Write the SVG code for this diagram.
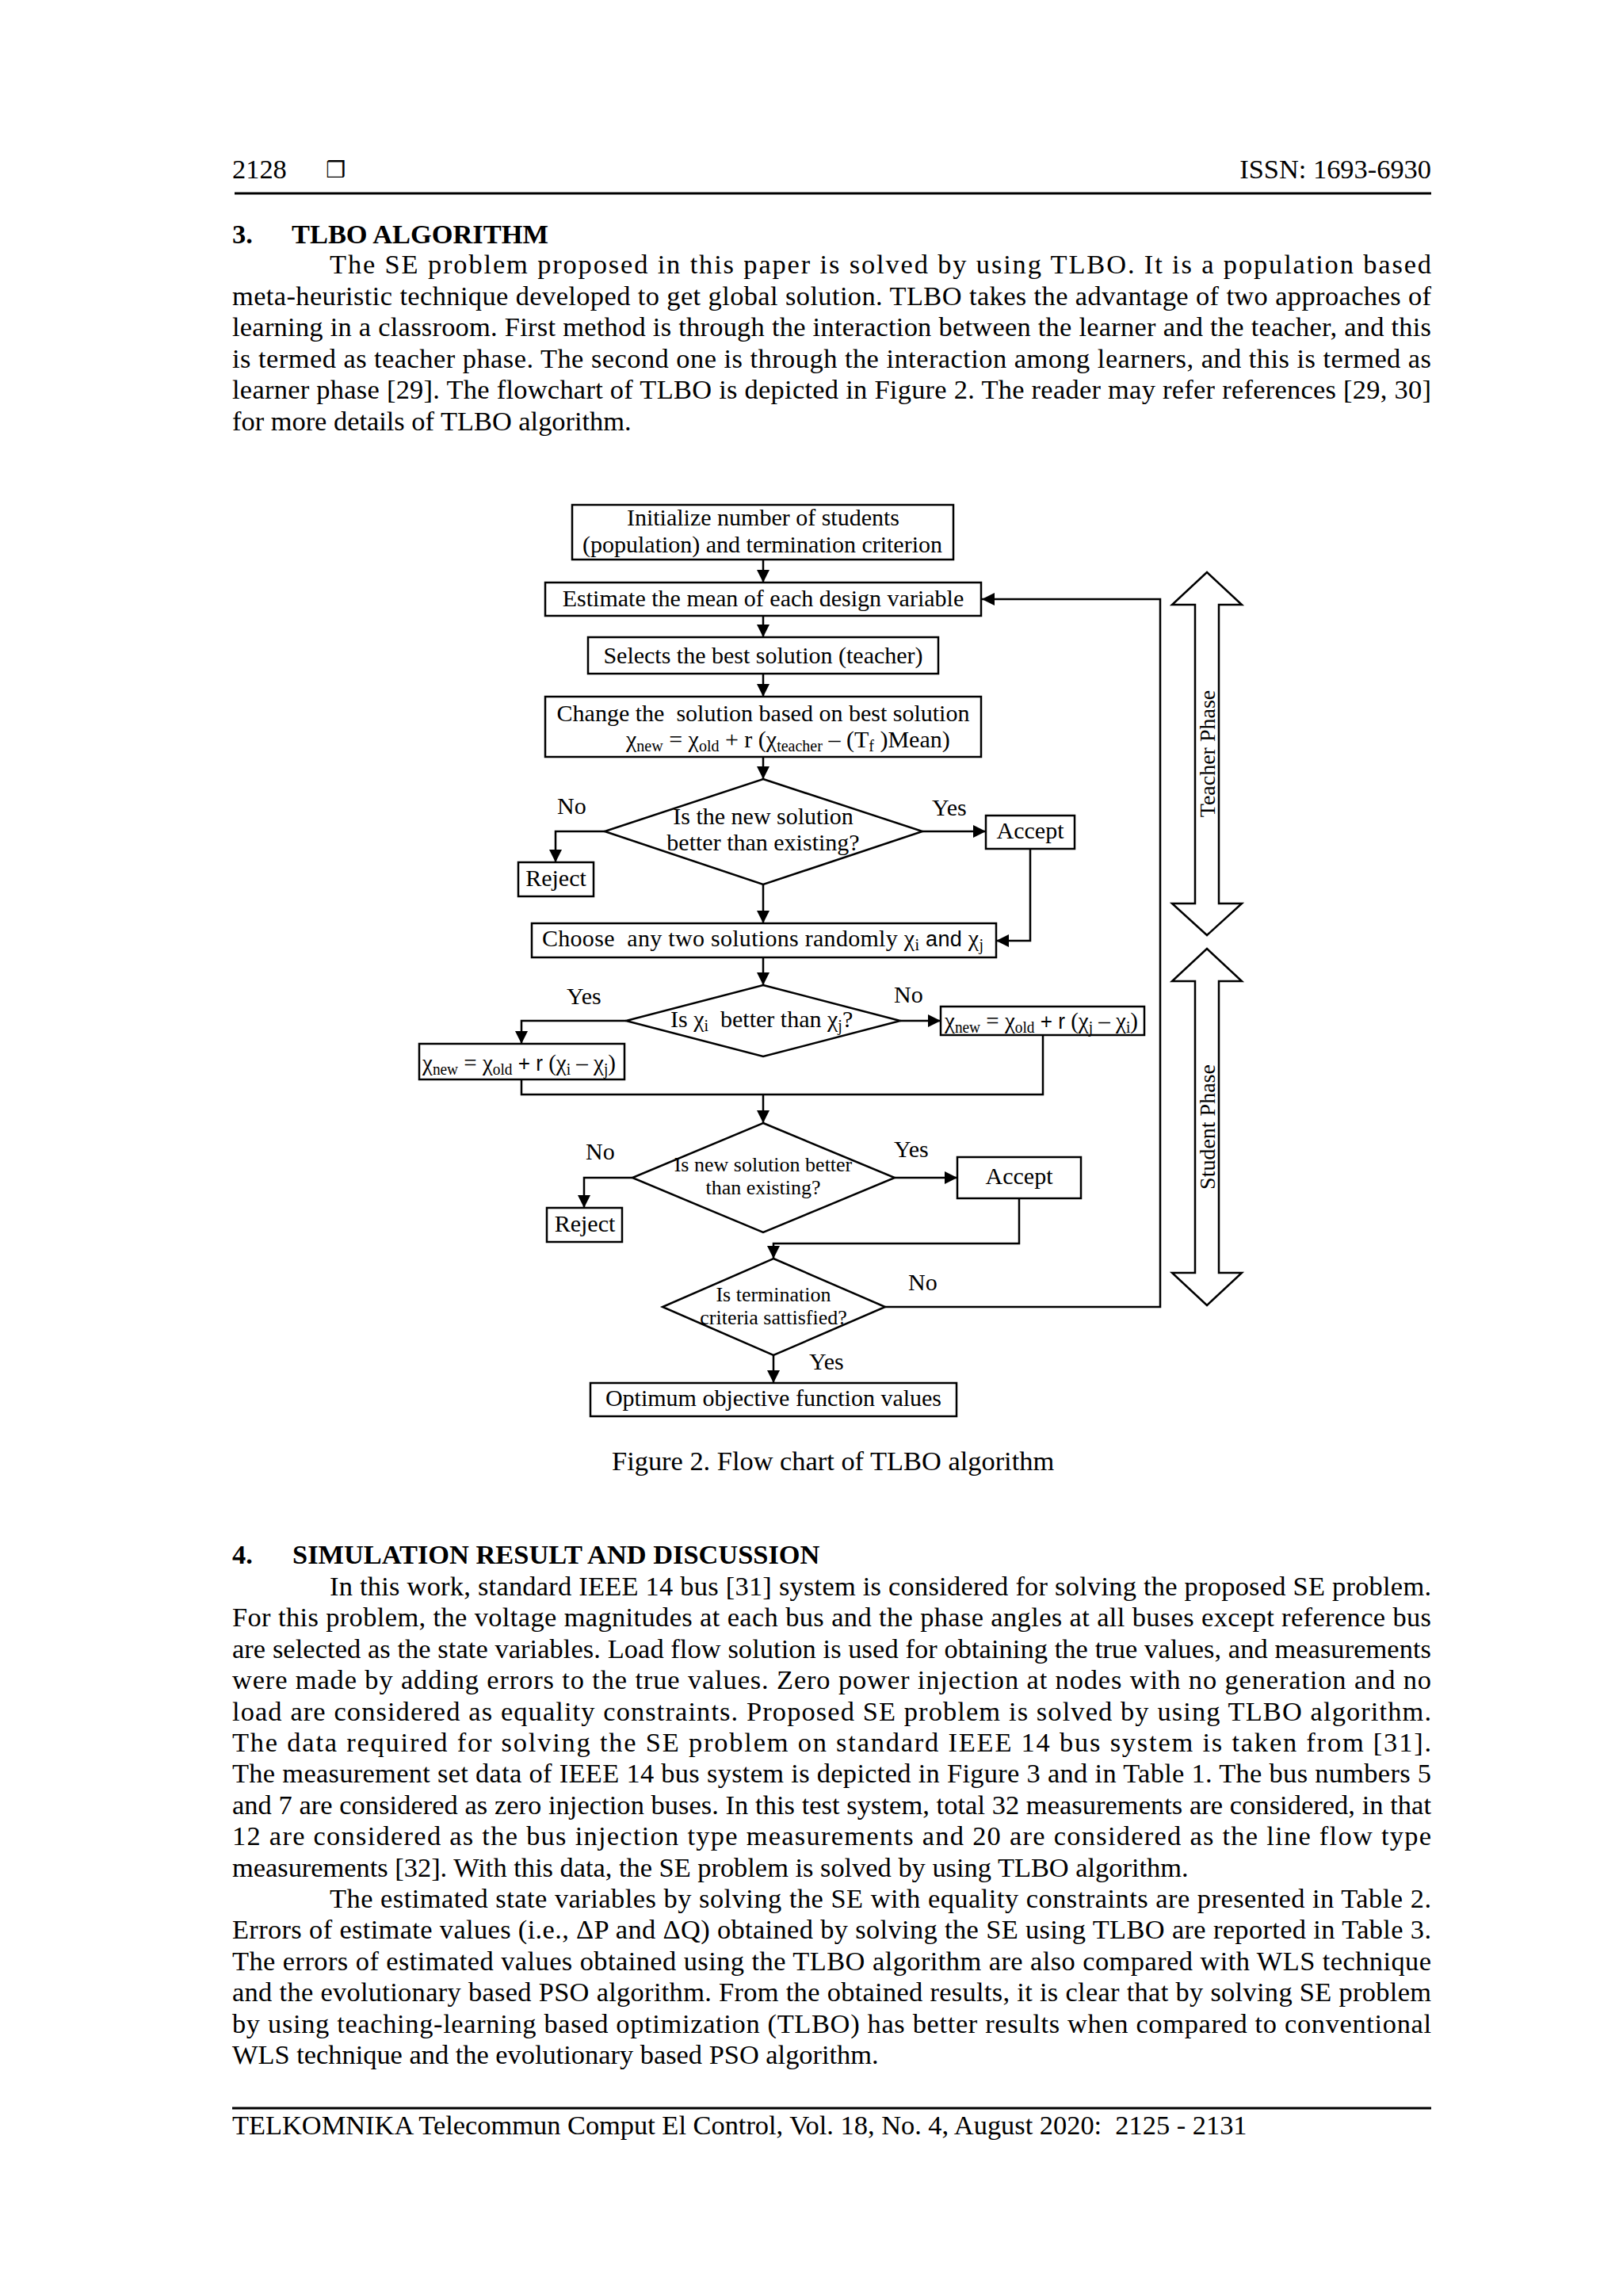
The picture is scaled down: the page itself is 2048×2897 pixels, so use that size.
<svg xmlns="http://www.w3.org/2000/svg" width="2048" height="2897" viewBox="0 0 2048 2897">
<style>
.t{font-family:"Liberation Serif","Times New Roman",serif;fill:#000}
.b{font-size:34.4px}
.hb{font-size:34.4px;font-weight:bold}
.fc{font-size:30px}
.fs{font-size:26px}
.sub{font-size:20px}
.sans{font-family:"Liberation Sans",Arial,sans-serif}
.box{fill:#fff;stroke:#000;stroke-width:2.5}
.conn{fill:none;stroke:#000;stroke-width:2.5}
.rule{stroke:#000;stroke-width:3}
.phase{fill:#fff;stroke:#000;stroke-width:2.5;stroke-linejoin:miter}
</style>
<defs>
<marker id="ah" viewBox="0 0 10 10" refX="10" refY="5" markerWidth="16" markerHeight="16" markerUnits="userSpaceOnUse" orient="auto">
<path d="M0,0 L10,5 L0,10 z" fill="#000"/>
</marker>
</defs>
<rect width="2048" height="2897" fill="#fff"/>

<g id="page-header">
<text class="t b" x="293" y="225">2128</text>
<text x="411" y="224" font-family="DejaVu Sans" font-size="28">❒</text>
<text class="t b" x="1806" y="225" text-anchor="end">ISSN: 1693-6930</text>
<line class="rule" x1="296" y1="244" x2="1806" y2="244"/>
</g>

<g id="section3">
<text class="t hb" x="293" y="307">3.</text>
<text class="t hb" x="368" y="307">TLBO ALGORITHM</text>
<text class="t b" x="416" y="345" textLength="1390" lengthAdjust="spacing">The SE problem proposed in this paper is solved by using TLBO. It is a population based</text>
<text class="t b" x="293" y="384.5" textLength="1513" lengthAdjust="spacing">meta-heuristic technique developed to get global solution. TLBO takes the advantage of two approaches of</text>
<text class="t b" x="293" y="424" textLength="1513" lengthAdjust="spacing">learning in a classroom. First method is through the interaction between the learner and the teacher, and this</text>
<text class="t b" x="293" y="463.5" textLength="1513" lengthAdjust="spacing">is termed as teacher phase. The second one is through the interaction among learners, and this is termed as</text>
<text class="t b" x="293" y="503" textLength="1513" lengthAdjust="spacing">learner phase [29]. The flowchart of TLBO is depicted in Figure 2. The reader may refer references [29, 30]</text>
<text class="t b" x="293" y="542.5">for more details of TLBO algorithm.</text>
</g>

<g id="connectors">
<line class="conn" x1="963" y1="706" x2="963" y2="735" marker-end="url(#ah)"/>
<line class="conn" x1="963" y1="777" x2="963" y2="804" marker-end="url(#ah)"/>
<line class="conn" x1="963" y1="850" x2="963" y2="879" marker-end="url(#ah)"/>
<line class="conn" x1="963" y1="955" x2="963" y2="983" marker-end="url(#ah)"/>
<polyline class="conn" points="763,1049 701,1049 701,1088" marker-end="url(#ah)"/>
<line class="conn" x1="1164" y1="1049" x2="1244" y2="1049" marker-end="url(#ah)"/>
<line class="conn" x1="963" y1="1116" x2="963" y2="1165" marker-end="url(#ah)"/>
<polyline class="conn" points="1300,1071 1300,1187 1257,1187" marker-end="url(#ah)"/>
<line class="conn" x1="963" y1="1208" x2="963" y2="1243" marker-end="url(#ah)"/>
<polyline class="conn" points="790,1288 658,1288 658,1317" marker-end="url(#ah)"/>
<line class="conn" x1="1136" y1="1288" x2="1187" y2="1288" marker-end="url(#ah)"/>
<polyline class="conn" points="658,1362 658,1381 1316,1381 1316,1306"/>
<line class="conn" x1="963" y1="1381" x2="963" y2="1417" marker-end="url(#ah)"/>
<polyline class="conn" points="798,1486 737,1486 737,1524" marker-end="url(#ah)"/>
<line class="conn" x1="1129" y1="1486" x2="1208" y2="1486" marker-end="url(#ah)"/>
<polyline class="conn" points="1286,1512 1286,1569 976,1569 976,1588" marker-end="url(#ah)"/>
<polyline class="conn" points="1117,1649 1464,1649 1464,756 1239,756" marker-end="url(#ah)"/>
<line class="conn" x1="976" y1="1710" x2="976" y2="1745" marker-end="url(#ah)"/>
</g>

<g id="n-init">
<rect class="box" x="722" y="637" width="481" height="69"/>
<text class="t fc" x="963" y="663" text-anchor="middle">Initialize number of students</text>
<text class="t fc" x="962" y="697" text-anchor="middle">(population) and termination criterion</text>
</g>
<g id="n-mean">
<rect class="box" x="688" y="735" width="550" height="42"/>
<text class="t fc" x="963" y="765" text-anchor="middle">Estimate the mean of each design variable</text>
</g>
<g id="n-best">
<rect class="box" x="742" y="804" width="442" height="46"/>
<text class="t fc" x="963" y="837" text-anchor="middle">Selects the best solution (teacher)</text>
</g>
<g id="n-change">
<rect class="box" x="688" y="879" width="550" height="76"/>
<text class="t fc" x="963" y="910" text-anchor="middle" xml:space="preserve">Change the  solution based on best solution</text>
<text class="t fc" x="790" y="943">χ<tspan class="sub" dy="5">new</tspan><tspan dy="-5"> = χ</tspan><tspan class="sub" dy="5">old</tspan><tspan dy="-5"> + r (χ</tspan><tspan class="sub" dy="5">teacher</tspan><tspan dy="-5"> – (T</tspan><tspan class="sub" dy="5">f</tspan><tspan dy="-5"> )Mean)</tspan></text>
</g>
<g id="n-dec1">
<polygon class="box" points="963,983 1164,1049 963,1116 763,1049"/>
<text class="t fc" x="963" y="1040" text-anchor="middle">Is the new solution</text>
<text class="t fc" x="963" y="1073" text-anchor="middle">better than existing?</text>
<text class="t fc" x="703" y="1027">No</text>
<text class="t fc" x="1176" y="1029">Yes</text>
</g>
<g id="n-reject1">
<rect class="box" x="654" y="1088" width="95" height="43"/>
<text class="t fc" x="701.5" y="1118" text-anchor="middle">Reject</text>
</g>
<g id="n-accept1">
<rect class="box" x="1244" y="1029" width="112" height="42"/>
<text class="t fc" x="1300" y="1058" text-anchor="middle">Accept</text>
</g>
<g id="n-choose">
<rect class="box" x="671" y="1165" width="586" height="43"/>
<text class="t fc" x="684" y="1194" textLength="557" lengthAdjust="spacing" xml:space="preserve">Choose  any two solutions randomly χ<tspan class="sub" dy="5">i</tspan><tspan dy="-5" class="sans" font-size="27"> and </tspan>χ<tspan class="sub" dy="5">j</tspan></text>
</g>
<g id="n-dec2">
<polygon class="box" points="963,1243 1136,1288 963,1333 790,1288"/>
<text class="t fc" x="846" y="1296" xml:space="preserve">Is χ<tspan class="sub" dy="5">i</tspan><tspan dy="-5">  better than χ</tspan><tspan class="sub" dy="5">j</tspan><tspan dy="-5">?</tspan></text>
<text class="t fc" x="715" y="1267">Yes</text>
<text class="t fc" x="1128" y="1265">No</text>
</g>
<g id="n-upd-left">
<rect class="box" x="529" y="1317" width="259" height="45"/>
<text class="t fc" x="533" y="1351" textLength="244" lengthAdjust="spacingAndGlyphs">χ<tspan class="sub" dy="5">new</tspan><tspan dy="-5"> = χ</tspan><tspan class="sub" dy="5">old</tspan><tspan dy="-5" class="sans" font-size="27"> + r </tspan><tspan>(χ</tspan><tspan class="sub" dy="5">i</tspan><tspan dy="-5"> – χ</tspan><tspan class="sub" dy="5">j</tspan><tspan dy="-5">)</tspan></text>
</g>
<g id="n-upd-right">
<rect class="box" x="1187" y="1270" width="257" height="36"/>
<text class="t fc" x="1192" y="1298" textLength="244" lengthAdjust="spacingAndGlyphs">χ<tspan class="sub" dy="5">new</tspan><tspan dy="-5"> = χ</tspan><tspan class="sub" dy="5">old</tspan><tspan dy="-5" class="sans" font-size="27"> + r </tspan><tspan>(χ</tspan><tspan class="sub" dy="5">j</tspan><tspan dy="-5"> – χ</tspan><tspan class="sub" dy="5">i</tspan><tspan dy="-5">)</tspan></text>
</g>
<g id="n-dec3">
<polygon class="box" points="963,1417 1129,1486 963,1555 798,1486"/>
<text class="t fs" x="963" y="1478" text-anchor="middle">Is new solution better</text>
<text class="t fs" x="963" y="1507" text-anchor="middle">than existing?</text>
<text class="t fc" x="739" y="1463">No</text>
<text class="t fc" x="1128" y="1460">Yes</text>
</g>
<g id="n-reject2">
<rect class="box" x="690" y="1524" width="95" height="43"/>
<text class="t fc" x="738" y="1554" text-anchor="middle">Reject</text>
</g>
<g id="n-accept2">
<rect class="box" x="1208" y="1460" width="156" height="52"/>
<text class="t fc" x="1286" y="1494" text-anchor="middle">Accept</text>
</g>
<g id="n-dec4">
<polygon class="box" points="976,1588 1117,1649 976,1710 836,1649"/>
<text class="t fs" x="976" y="1642" text-anchor="middle">Is termination</text>
<text class="t fs" x="976" y="1671" text-anchor="middle">criteria sattisfied?</text>
<text class="t fc" x="1146" y="1628">No</text>
<text class="t fc" x="1021" y="1728">Yes</text>
</g>
<g id="n-optimum">
<rect class="box" x="745" y="1745" width="462" height="42"/>
<text class="t fc" x="976" y="1774" text-anchor="middle">Optimum objective function values</text>
</g>
<g id="teacher-phase">
<polygon class="phase" points="1523,722 1567,763 1538,763 1538,1140 1567,1140 1523,1180 1479,1140 1508,1140 1508,763 1479,763"/>
<text class="t" font-size="28" transform="translate(1533,951) rotate(-90)" text-anchor="middle">Teacher Phase</text>
</g>
<g id="student-phase">
<polygon class="phase" points="1523,1197 1567,1238 1538,1238 1538,1606 1567,1606 1523,1647 1479,1606 1508,1606 1508,1238 1479,1238"/>
<text class="t" font-size="28" transform="translate(1533,1422) rotate(-90)" text-anchor="middle">Student Phase</text>
</g>

<text class="t b" x="772" y="1855">Figure 2. Flow chart of TLBO algorithm</text>

<g id="section4">
<text class="t hb" x="293" y="1973">4.</text>
<text class="t hb" x="369" y="1973">SIMULATION RESULT AND DISCUSSION</text>
<text class="t b" x="416" y="2013" textLength="1390" lengthAdjust="spacing">In this work, standard IEEE 14 bus [31] system is considered for solving the proposed SE problem.</text>
<text class="t b" x="293" y="2052.4" textLength="1513" lengthAdjust="spacing">For this problem, the voltage magnitudes at each bus and the phase angles at all buses except reference bus</text>
<text class="t b" x="293" y="2091.8" textLength="1513" lengthAdjust="spacing">are selected as the state variables. Load flow solution is used for obtaining the true values, and measurements</text>
<text class="t b" x="293" y="2131.2" textLength="1513" lengthAdjust="spacing">were made by adding errors to the true values. Zero power injection at nodes with no generation and no</text>
<text class="t b" x="293" y="2170.6" textLength="1513" lengthAdjust="spacing">load are considered as equality constraints. Proposed SE problem is solved by using TLBO algorithm.</text>
<text class="t b" x="293" y="2210" textLength="1513" lengthAdjust="spacing">The data required for solving the SE problem on standard IEEE 14 bus system is taken from [31].</text>
<text class="t b" x="293" y="2249.4" textLength="1513" lengthAdjust="spacing">The measurement set data of IEEE 14 bus system is depicted in Figure 3 and in Table 1. The bus numbers 5</text>
<text class="t b" x="293" y="2288.8" textLength="1513" lengthAdjust="spacing">and 7 are considered as zero injection buses. In this test system, total 32 measurements are considered, in that</text>
<text class="t b" x="293" y="2328.2" textLength="1513" lengthAdjust="spacing">12 are considered as the bus injection type measurements and 20 are considered as the line flow type</text>
<text class="t b" x="293" y="2367.6">measurements [32]. With this data, the SE problem is solved by using TLBO algorithm.</text>
<text class="t b" x="416" y="2407" textLength="1390" lengthAdjust="spacing">The estimated state variables by solving the SE with equality constraints are presented in Table 2.</text>
<text class="t b" x="293" y="2446.4" textLength="1513" lengthAdjust="spacing">Errors of estimate values (i.e., ΔP and ΔQ) obtained by solving the SE using TLBO are reported in Table 3.</text>
<text class="t b" x="293" y="2485.8" textLength="1513" lengthAdjust="spacing">The errors of estimated values obtained using the TLBO algorithm are also compared with WLS technique</text>
<text class="t b" x="293" y="2525.2" textLength="1513" lengthAdjust="spacing">and the evolutionary based PSO algorithm. From the obtained results, it is clear that by solving SE problem</text>
<text class="t b" x="293" y="2564.6" textLength="1513" lengthAdjust="spacing">by using teaching-learning based optimization (TLBO) has better results when compared to conventional</text>
<text class="t b" x="293" y="2604">WLS technique and the evolutionary based PSO algorithm.</text>
</g>

<g id="page-footer">
<line class="rule" x1="293" y1="2660" x2="1806" y2="2660"/>
<text class="t b" x="293" y="2693" xml:space="preserve">TELKOMNIKA Telecommun Comput El Control, Vol. 18, No. 4, August 2020:  2125 - 2131</text>
</g>
</svg>
